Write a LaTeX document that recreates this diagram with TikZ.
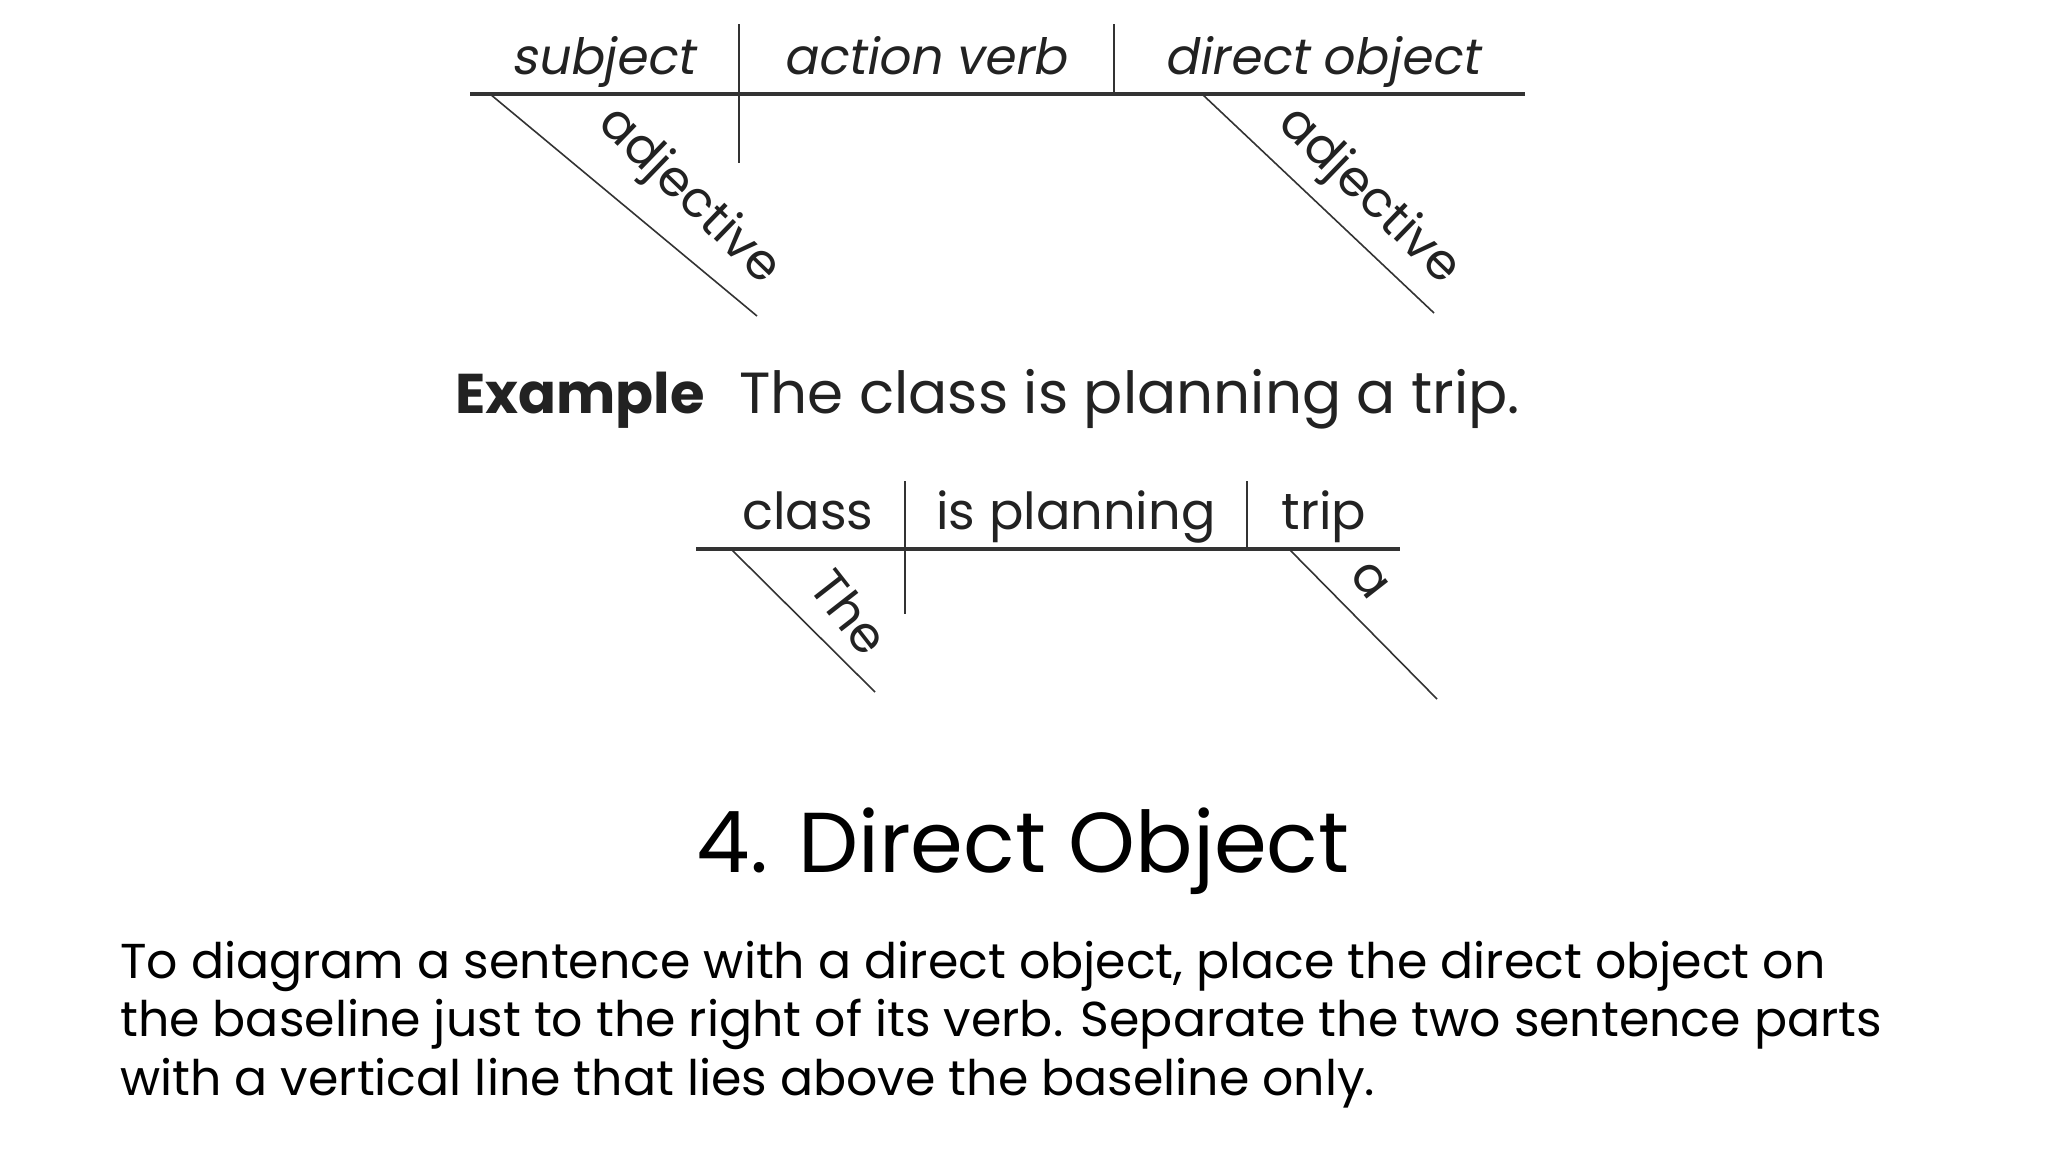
\documentclass[tikz,border=0pt]{standalone}
\usepackage{fontspec}
\setmainfont{Poppins}
\newfontfamily\diagfont[FakeSlant=0.18]{Poppins}
\newfontfamily\plainfont{Poppins}
\definecolor{ink}{HTML}{222222}
\definecolor{gline}{HTML}{333333}
\begin{document}
\begin{tikzpicture}[x=1pt,y=-1pt,
  mainline/.style={line width=3.5pt, color=gline},
  divider/.style={line width=2.3pt, color=gline},
  modline/.style={line width=1.6pt, color=gline},
  toplabel/.style={anchor=base, inner sep=0pt, text=ink, font=\diagfont\fontsize{50}{60}\selectfont},
  rotlabel/.style={anchor=center, inner sep=0pt, text=ink, font=\plainfont\fontsize{50}{60}\selectfont},
  exlabel/.style={anchor=base, inner sep=0pt, text=ink, font=\plainfont\fontsize{51}{61}\selectfont},
  bodytext/.style={anchor=base west, inner sep=0pt, text=black, font=\fontsize{49}{59}\selectfont}]
\useasboundingbox (0,0) rectangle (2048,1152);
% ---------- top diagram ----------
\coordinate (tL) at (470,94);
\coordinate (tR) at (1525,94);
\coordinate (tv1t) at (739,24);
\coordinate (tv1b) at (739,163);
\coordinate (tv2t) at (1114,24);
\coordinate (tv2b) at (1114,94);
\coordinate (td1a) at (490,94);
\coordinate (td1b) at (757,316);
\coordinate (td2a) at (1202,94);
\coordinate (td2b) at (1434,313);
\draw[mainline] (tL) -- (tR);
\draw[divider] (tv1t) -- (tv1b);
\draw[divider] (tv2t) -- (tv2b);
\draw[modline] (td1a) -- (td1b);
\draw[modline] (td2a) -- (td2b);
\node[toplabel] (subj) at (603,74) {subject};
\node[toplabel] (verb) at (925,74) {action verb};
\node[toplabel] (dobj) at (1322,74) {direct object};
\node[rotlabel, rotate=-44] (adj1) at (688,197) {adjective};
\node[rotlabel, rotate=-44] (adj2) at (1368,197) {adjective};
% ---------- example ----------
\node[anchor=base west, inner sep=0pt, text=ink, font=\plainfont\bfseries\fontsize{56}{66}\selectfont] (exword) at (455,413) {Example};
\node[anchor=base west, inner sep=0pt, text=ink, font=\plainfont\fontsize{58}{68}\selectfont] (exsent) at (739,413) {The class is planning a trip.};
% ---------- second diagram ----------
\coordinate (bL) at (696,549);
\coordinate (bR) at (1400,549);
\coordinate (bv1t) at (905,481);
\coordinate (bv1b) at (905,614);
\coordinate (bv2t) at (1247,481);
\coordinate (bv2b) at (1247,549);
\coordinate (bd1a) at (731,549);
\coordinate (bd1b) at (875,692);
\coordinate (bd2a) at (1289,549);
\coordinate (bd2b) at (1437,699);
\draw[mainline] (bL) -- (bR);
\draw[divider] (bv1t) -- (bv1b);
\draw[divider] (bv2t) -- (bv2b);
\draw[modline] (bd1a) -- (bd1b);
\draw[modline] (bd2a) -- (bd2b);
\node[exlabel] (cls) at (808,529) {class};
\node[exlabel] (plan) at (1076,529) {is planning};
\node[exlabel] (trp) at (1324,529) {trip};
\node[rotlabel, rotate=-52, font=\plainfont\fontsize{50}{60}\selectfont] (the) at (850,612) {The};
\node[rotlabel, rotate=-52, font=\plainfont\fontsize{50}{60}\selectfont] (art) at (1370,580) {a};
% ---------- title and explanation ----------
\node[anchor=base, inner sep=0pt, text=black, font=\fontsize{85}{100}\selectfont] (title) at (1023,872) {4. Direct Object};
\node[bodytext] (l1) at (120,978) {To diagram a sentence with a direct object, place the direct object on};
\node[bodytext] (l2) at (120,1036) {the baseline just to the right of its verb. Separate the two sentence parts};
\node[bodytext] (l3) at (120,1095) {with a vertical line that lies above the baseline only.};
\end{tikzpicture}
\end{document}
